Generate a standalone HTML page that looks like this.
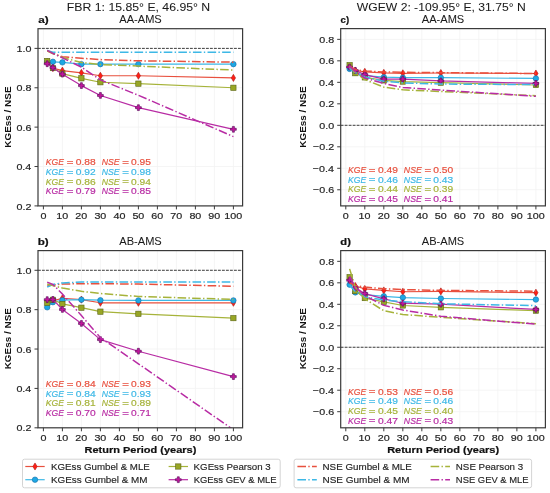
<!DOCTYPE html>
<html><head><meta charset="utf-8"><style>
html,body{margin:0;padding:0;background:#fff;}
body{width:550px;height:493px;overflow:hidden;}
svg{display:block;font-family:"Liberation Sans", sans-serif;filter:blur(0.35px);}
text{font-family:"Liberation Sans", sans-serif;}
</style></head><body>
<svg width="550" height="493" viewBox="0 0 550 493">
<rect width="550" height="493" fill="#ffffff"/>
<path d="M43.4,28.7V205.9M62.4,28.7V205.9M81.4,28.7V205.9M100.4,28.7V205.9M119.4,28.7V205.9M138.4,28.7V205.9M157.4,28.7V205.9M176.4,28.7V205.9M195.4,28.7V205.9M214.4,28.7V205.9M233.4,28.7V205.9M38,205.9H242.6M38,166.52H242.6M38,127.14H242.6M38,87.77H242.6M38,48.39H242.6" stroke="#f2f2f2" stroke-width="0.8" fill="none"/>
<path d="M38,48.39H242.6" stroke="#3c3c3c" stroke-width="1.0" stroke-dasharray="2.8 1.2" fill="none"/>
<clipPath id="cpa"><rect x="38.0" y="28.7" width="204.6" height="177.20000000000002"/></clipPath>
<g clip-path="url(#cpa)">
<polyline points="47.2,62.17 52.9,68.08 62.4,70.64 81.4,72.8 100.4,75.76 138.4,75.76 233.4,77.92" fill="none" stroke="#e8503e" stroke-width="1.2" stroke-linejoin="round"/>
<polygon points="47.2,58.62 49.35,62.17 47.2,65.72 45.05,62.17" fill="#ff1e14" stroke="#a8201c" stroke-width="0.6"/>
<polygon points="52.9,64.53 55.05,68.08 52.9,71.63 50.75,68.08" fill="#ff1e14" stroke="#a8201c" stroke-width="0.6"/>
<polygon points="62.4,67.09 64.55,70.64 62.4,74.19 60.25,70.64" fill="#ff1e14" stroke="#a8201c" stroke-width="0.6"/>
<polygon points="81.4,69.25 83.55,72.8 81.4,76.35 79.25,72.8" fill="#ff1e14" stroke="#a8201c" stroke-width="0.6"/>
<polygon points="100.4,72.21 102.55,75.76 100.4,79.31 98.25,75.76" fill="#ff1e14" stroke="#a8201c" stroke-width="0.6"/>
<polygon points="138.4,72.21 140.55,75.76 138.4,79.31 136.25,75.76" fill="#ff1e14" stroke="#a8201c" stroke-width="0.6"/>
<polygon points="233.4,74.37 235.55,77.92 233.4,81.47 231.25,77.92" fill="#ff1e14" stroke="#a8201c" stroke-width="0.6"/>
<polyline points="47.2,61.78 52.9,61.78 62.4,62.37 81.4,64.14 100.4,64.14 138.4,64.14 233.4,64.14" fill="none" stroke="#3db8e6" stroke-width="1.2" stroke-linejoin="round"/>
<circle cx="47.2" cy="61.78" r="2.75" fill="#1ea8e4" stroke="#1a6fa8" stroke-width="0.6"/>
<circle cx="52.9" cy="61.78" r="2.75" fill="#1ea8e4" stroke="#1a6fa8" stroke-width="0.6"/>
<circle cx="62.4" cy="62.37" r="2.75" fill="#1ea8e4" stroke="#1a6fa8" stroke-width="0.6"/>
<circle cx="81.4" cy="64.14" r="2.75" fill="#1ea8e4" stroke="#1a6fa8" stroke-width="0.6"/>
<circle cx="100.4" cy="64.14" r="2.75" fill="#1ea8e4" stroke="#1a6fa8" stroke-width="0.6"/>
<circle cx="138.4" cy="64.14" r="2.75" fill="#1ea8e4" stroke="#1a6fa8" stroke-width="0.6"/>
<circle cx="233.4" cy="64.14" r="2.75" fill="#1ea8e4" stroke="#1a6fa8" stroke-width="0.6"/>
<polyline points="47.2,60.99 52.9,68.08 62.4,73.59 81.4,78.32 100.4,82.25 138.4,83.63 233.4,87.77" fill="none" stroke="#a6b33a" stroke-width="1.2" stroke-linejoin="round"/>
<rect x="44.55" y="58.34" width="5.3" height="5.3" fill="#98a625" stroke="#5a6414" stroke-width="0.6"/>
<rect x="50.25" y="65.43" width="5.3" height="5.3" fill="#98a625" stroke="#5a6414" stroke-width="0.6"/>
<rect x="59.75" y="70.94" width="5.3" height="5.3" fill="#98a625" stroke="#5a6414" stroke-width="0.6"/>
<rect x="78.75" y="75.67" width="5.3" height="5.3" fill="#98a625" stroke="#5a6414" stroke-width="0.6"/>
<rect x="97.75" y="79.6" width="5.3" height="5.3" fill="#98a625" stroke="#5a6414" stroke-width="0.6"/>
<rect x="135.75" y="80.98" width="5.3" height="5.3" fill="#98a625" stroke="#5a6414" stroke-width="0.6"/>
<rect x="230.75" y="85.12" width="5.3" height="5.3" fill="#98a625" stroke="#5a6414" stroke-width="0.6"/>
<polyline points="47.2,63.75 52.9,67.68 62.4,74.18 81.4,85.6 100.4,95.45 138.4,107.65 233.4,129.31" fill="none" stroke="#b82ca4" stroke-width="1.2" stroke-linejoin="round"/>
<polygon points="46.2,60.85 48.2,60.85 48.2,62.75 50.1,62.75 50.1,64.75 48.2,64.75 48.2,66.65 46.2,66.65 46.2,64.75 44.3,64.75 44.3,62.75 46.2,62.75" fill="#c4149e" stroke="#520a58" stroke-width="0.6"/>
<polygon points="51.9,64.78 53.9,64.78 53.9,66.68 55.8,66.68 55.8,68.68 53.9,68.68 53.9,70.58 51.9,70.58 51.9,68.68 50,68.68 50,66.68 51.9,66.68" fill="#c4149e" stroke="#520a58" stroke-width="0.6"/>
<polygon points="61.4,71.28 63.4,71.28 63.4,73.18 65.3,73.18 65.3,75.18 63.4,75.18 63.4,77.08 61.4,77.08 61.4,75.18 59.5,75.18 59.5,73.18 61.4,73.18" fill="#c4149e" stroke="#520a58" stroke-width="0.6"/>
<polygon points="80.4,82.7 82.4,82.7 82.4,84.6 84.3,84.6 84.3,86.6 82.4,86.6 82.4,88.5 80.4,88.5 80.4,86.6 78.5,86.6 78.5,84.6 80.4,84.6" fill="#c4149e" stroke="#520a58" stroke-width="0.6"/>
<polygon points="99.4,92.55 101.4,92.55 101.4,94.45 103.3,94.45 103.3,96.45 101.4,96.45 101.4,98.35 99.4,98.35 99.4,96.45 97.5,96.45 97.5,94.45 99.4,94.45" fill="#c4149e" stroke="#520a58" stroke-width="0.6"/>
<polygon points="137.4,104.75 139.4,104.75 139.4,106.65 141.3,106.65 141.3,108.65 139.4,108.65 139.4,110.55 137.4,110.55 137.4,108.65 135.5,108.65 135.5,106.65 137.4,106.65" fill="#c4149e" stroke="#520a58" stroke-width="0.6"/>
<polygon points="232.4,126.41 234.4,126.41 234.4,128.31 236.3,128.31 236.3,130.31 234.4,130.31 234.4,132.21 232.4,132.21 232.4,130.31 230.5,130.31 230.5,128.31 232.4,128.31" fill="#c4149e" stroke="#520a58" stroke-width="0.6"/>
<polyline points="47.2,50.75 52.9,53.51 62.4,56.66 81.4,58.23 100.4,59.61 138.4,60.79 233.4,62.17" fill="none" stroke="#e8503e" stroke-width="1.5" stroke-dasharray="8.6 2.3 1.4 2.3" stroke-linejoin="round"/>
<polyline points="47.2,50.36 52.9,52.13 62.4,52.13 81.4,52.13 100.4,52.13 138.4,52.13 233.4,52.13" fill="none" stroke="#3db8e6" stroke-width="1.5" stroke-dasharray="8.6 2.3 1.4 2.3" stroke-linejoin="round"/>
<polyline points="47.2,50.75 52.9,53.51 62.4,57.45 81.4,62.56 100.4,64.53 138.4,66.11 233.4,70.05" fill="none" stroke="#a6b33a" stroke-width="1.5" stroke-dasharray="8.6 2.3 1.4 2.3" stroke-linejoin="round"/>
<polyline points="47.2,50.36 52.9,53.31 62.4,57.84 81.4,67.09 100.4,79.89 138.4,95.25 233.4,136.6" fill="none" stroke="#b82ca4" stroke-width="1.5" stroke-dasharray="8.6 2.3 1.4 2.3" stroke-linejoin="round"/>
</g>
<rect x="38.0" y="28.7" width="204.6" height="177.2" fill="none" stroke="#3a3a3a" stroke-width="1.2"/>
<path d="M43.4,205.9v3.5M62.4,205.9v3.5M81.4,205.9v3.5M100.4,205.9v3.5M119.4,205.9v3.5M138.4,205.9v3.5M157.4,205.9v3.5M176.4,205.9v3.5M195.4,205.9v3.5M214.4,205.9v3.5M233.4,205.9v3.5M38,205.9h-3.5M38,166.52h-3.5M38,127.14h-3.5M38,87.77h-3.5M38,48.39h-3.5" stroke="#3a3a3a" stroke-width="1.0" fill="none"/>
<text transform="translate(40.39,219.3) scale(1.0970,1)" font-size="9.8" font-weight="normal" font-style="normal" fill="#262626" stroke="#262626" stroke-width="0.2">0</text>
<text transform="translate(56.16,219.3) scale(1.0970,1)" font-size="9.8" font-weight="normal" font-style="normal" fill="#262626" stroke="#262626" stroke-width="0.2">10</text>
<text transform="translate(75.33,219.3) scale(1.0970,1)" font-size="9.8" font-weight="normal" font-style="normal" fill="#262626" stroke="#262626" stroke-width="0.2">20</text>
<text transform="translate(94.38,219.3) scale(1.0970,1)" font-size="9.8" font-weight="normal" font-style="normal" fill="#262626" stroke="#262626" stroke-width="0.2">30</text>
<text transform="translate(113.49,219.3) scale(1.0970,1)" font-size="9.8" font-weight="normal" font-style="normal" fill="#262626" stroke="#262626" stroke-width="0.2">40</text>
<text transform="translate(132.38,219.3) scale(1.0970,1)" font-size="9.8" font-weight="normal" font-style="normal" fill="#262626" stroke="#262626" stroke-width="0.2">50</text>
<text transform="translate(151.33,219.3) scale(1.0970,1)" font-size="9.8" font-weight="normal" font-style="normal" fill="#262626" stroke="#262626" stroke-width="0.2">60</text>
<text transform="translate(170.33,219.3) scale(1.0970,1)" font-size="9.8" font-weight="normal" font-style="normal" fill="#262626" stroke="#262626" stroke-width="0.2">70</text>
<text transform="translate(189.38,219.3) scale(1.0970,1)" font-size="9.8" font-weight="normal" font-style="normal" fill="#262626" stroke="#262626" stroke-width="0.2">80</text>
<text transform="translate(208.33,219.3) scale(1.0970,1)" font-size="9.8" font-weight="normal" font-style="normal" fill="#262626" stroke="#262626" stroke-width="0.2">90</text>
<text transform="translate(224.21,219.3) scale(1.0970,1)" font-size="9.8" font-weight="normal" font-style="normal" fill="#262626" stroke="#262626" stroke-width="0.2">100</text>
<text transform="translate(16.59,209.5) scale(1.0970,1)" font-size="9.8" font-weight="normal" font-style="normal" fill="#262626" stroke="#262626" stroke-width="0.2">0.2</text>
<text transform="translate(16.38,170.12) scale(1.0970,1)" font-size="9.8" font-weight="normal" font-style="normal" fill="#262626" stroke="#262626" stroke-width="0.2">0.4</text>
<text transform="translate(16.59,130.74) scale(1.0970,1)" font-size="9.8" font-weight="normal" font-style="normal" fill="#262626" stroke="#262626" stroke-width="0.2">0.6</text>
<text transform="translate(16.59,91.37) scale(1.0970,1)" font-size="9.8" font-weight="normal" font-style="normal" fill="#262626" stroke="#262626" stroke-width="0.2">0.8</text>
<text transform="translate(16.49,51.99) scale(1.0970,1)" font-size="9.8" font-weight="normal" font-style="normal" fill="#262626" stroke="#262626" stroke-width="0.2">1.0</text>
<text transform="translate(45.84,165.3) scale(0.8739,1)" font-size="9.8" font-weight="normal" font-style="italic" fill="#e8503e" stroke="#e8503e" stroke-width="0.2">KGE</text>
<text transform="translate(66.63,164.95) scale(1.3720,1)" font-size="8.33" font-weight="normal" font-style="normal" fill="#e8503e" stroke="#e8503e" stroke-width="0.2">=</text>
<text transform="translate(75.79,165.3) scale(1.0450,1)" font-size="9.8" font-weight="normal" font-style="normal" fill="#e8503e" stroke="#e8503e" stroke-width="0.2">0.88</text>
<text transform="translate(101.64,165.3) scale(0.8904,1)" font-size="9.8" font-weight="normal" font-style="italic" fill="#e8503e" stroke="#e8503e" stroke-width="0.2">NSE</text>
<text transform="translate(122.23,164.95) scale(1.3720,1)" font-size="8.33" font-weight="normal" font-style="normal" fill="#e8503e" stroke="#e8503e" stroke-width="0.2">=</text>
<text transform="translate(130.99,165.3) scale(1.0450,1)" font-size="9.8" font-weight="normal" font-style="normal" fill="#e8503e" stroke="#e8503e" stroke-width="0.2">0.95</text>
<text transform="translate(45.84,174.98) scale(0.8739,1)" font-size="9.8" font-weight="normal" font-style="italic" fill="#3db8e6" stroke="#3db8e6" stroke-width="0.2">KGE</text>
<text transform="translate(66.63,174.63) scale(1.3720,1)" font-size="8.33" font-weight="normal" font-style="normal" fill="#3db8e6" stroke="#3db8e6" stroke-width="0.2">=</text>
<text transform="translate(75.79,174.98) scale(1.0450,1)" font-size="9.8" font-weight="normal" font-style="normal" fill="#3db8e6" stroke="#3db8e6" stroke-width="0.2">0.92</text>
<text transform="translate(101.64,174.98) scale(0.8904,1)" font-size="9.8" font-weight="normal" font-style="italic" fill="#3db8e6" stroke="#3db8e6" stroke-width="0.2">NSE</text>
<text transform="translate(122.23,174.63) scale(1.3720,1)" font-size="8.33" font-weight="normal" font-style="normal" fill="#3db8e6" stroke="#3db8e6" stroke-width="0.2">=</text>
<text transform="translate(130.99,174.98) scale(1.0450,1)" font-size="9.8" font-weight="normal" font-style="normal" fill="#3db8e6" stroke="#3db8e6" stroke-width="0.2">0.98</text>
<text transform="translate(45.84,184.66) scale(0.8739,1)" font-size="9.8" font-weight="normal" font-style="italic" fill="#a6b33a" stroke="#a6b33a" stroke-width="0.2">KGE</text>
<text transform="translate(66.63,184.31) scale(1.3720,1)" font-size="8.33" font-weight="normal" font-style="normal" fill="#a6b33a" stroke="#a6b33a" stroke-width="0.2">=</text>
<text transform="translate(75.79,184.66) scale(1.0450,1)" font-size="9.8" font-weight="normal" font-style="normal" fill="#a6b33a" stroke="#a6b33a" stroke-width="0.2">0.86</text>
<text transform="translate(101.64,184.66) scale(0.8904,1)" font-size="9.8" font-weight="normal" font-style="italic" fill="#a6b33a" stroke="#a6b33a" stroke-width="0.2">NSE</text>
<text transform="translate(122.23,184.31) scale(1.3720,1)" font-size="8.33" font-weight="normal" font-style="normal" fill="#a6b33a" stroke="#a6b33a" stroke-width="0.2">=</text>
<text transform="translate(130.99,184.66) scale(1.0450,1)" font-size="9.8" font-weight="normal" font-style="normal" fill="#a6b33a" stroke="#a6b33a" stroke-width="0.2">0.94</text>
<text transform="translate(45.84,194.34) scale(0.8739,1)" font-size="9.8" font-weight="normal" font-style="italic" fill="#b82ca4" stroke="#b82ca4" stroke-width="0.2">KGE</text>
<text transform="translate(66.63,193.99) scale(1.3720,1)" font-size="8.33" font-weight="normal" font-style="normal" fill="#b82ca4" stroke="#b82ca4" stroke-width="0.2">=</text>
<text transform="translate(75.79,194.34) scale(1.0450,1)" font-size="9.8" font-weight="normal" font-style="normal" fill="#b82ca4" stroke="#b82ca4" stroke-width="0.2">0.79</text>
<text transform="translate(101.64,194.34) scale(0.8904,1)" font-size="9.8" font-weight="normal" font-style="italic" fill="#b82ca4" stroke="#b82ca4" stroke-width="0.2">NSE</text>
<text transform="translate(122.23,193.99) scale(1.3720,1)" font-size="8.33" font-weight="normal" font-style="normal" fill="#b82ca4" stroke="#b82ca4" stroke-width="0.2">=</text>
<text transform="translate(130.99,194.34) scale(1.0450,1)" font-size="9.8" font-weight="normal" font-style="normal" fill="#b82ca4" stroke="#b82ca4" stroke-width="0.2">0.85</text>
<path d="M43.4,250.6V427.8M62.4,250.6V427.8M81.4,250.6V427.8M100.4,250.6V427.8M119.4,250.6V427.8M138.4,250.6V427.8M157.4,250.6V427.8M176.4,250.6V427.8M195.4,250.6V427.8M214.4,250.6V427.8M233.4,250.6V427.8M38,427.8H242.6M38,388.42H242.6M38,349.04H242.6M38,309.67H242.6M38,270.29H242.6" stroke="#f2f2f2" stroke-width="0.8" fill="none"/>
<path d="M38,270.29H242.6" stroke="#3c3c3c" stroke-width="1.0" stroke-dasharray="2.8 1.2" fill="none"/>
<clipPath id="cpb"><rect x="38.0" y="250.6" width="204.6" height="177.20000000000002"/></clipPath>
<g clip-path="url(#cpb)">
<polyline points="47.2,301.79 52.9,300.81 62.4,298.25 81.4,299.63 100.4,302.78 138.4,302.78 233.4,302.78" fill="none" stroke="#e8503e" stroke-width="1.2" stroke-linejoin="round"/>
<polygon points="47.2,298.24 49.35,301.79 47.2,305.34 45.05,301.79" fill="#ff1e14" stroke="#a8201c" stroke-width="0.6"/>
<polygon points="52.9,297.26 55.05,300.81 52.9,304.36 50.75,300.81" fill="#ff1e14" stroke="#a8201c" stroke-width="0.6"/>
<polygon points="62.4,294.7 64.55,298.25 62.4,301.8 60.25,298.25" fill="#ff1e14" stroke="#a8201c" stroke-width="0.6"/>
<polygon points="81.4,296.08 83.55,299.63 81.4,303.18 79.25,299.63" fill="#ff1e14" stroke="#a8201c" stroke-width="0.6"/>
<polygon points="100.4,299.23 102.55,302.78 100.4,306.33 98.25,302.78" fill="#ff1e14" stroke="#a8201c" stroke-width="0.6"/>
<polygon points="138.4,299.23 140.55,302.78 138.4,306.33 136.25,302.78" fill="#ff1e14" stroke="#a8201c" stroke-width="0.6"/>
<polygon points="233.4,299.23 235.55,302.78 233.4,306.33 231.25,302.78" fill="#ff1e14" stroke="#a8201c" stroke-width="0.6"/>
<polyline points="47.2,307.3 52.9,302.18 62.4,300.22 81.4,299.63 100.4,300.22 138.4,300.41 233.4,300.41" fill="none" stroke="#3db8e6" stroke-width="1.2" stroke-linejoin="round"/>
<circle cx="47.2" cy="307.3" r="2.75" fill="#1ea8e4" stroke="#1a6fa8" stroke-width="0.6"/>
<circle cx="52.9" cy="302.18" r="2.75" fill="#1ea8e4" stroke="#1a6fa8" stroke-width="0.6"/>
<circle cx="62.4" cy="300.22" r="2.75" fill="#1ea8e4" stroke="#1a6fa8" stroke-width="0.6"/>
<circle cx="81.4" cy="299.63" r="2.75" fill="#1ea8e4" stroke="#1a6fa8" stroke-width="0.6"/>
<circle cx="100.4" cy="300.22" r="2.75" fill="#1ea8e4" stroke="#1a6fa8" stroke-width="0.6"/>
<circle cx="138.4" cy="300.41" r="2.75" fill="#1ea8e4" stroke="#1a6fa8" stroke-width="0.6"/>
<circle cx="233.4" cy="300.41" r="2.75" fill="#1ea8e4" stroke="#1a6fa8" stroke-width="0.6"/>
<polyline points="47.2,302.78 52.9,299.82 62.4,303.96 81.4,307.7 100.4,311.64 138.4,313.8 233.4,318.13" fill="none" stroke="#a6b33a" stroke-width="1.2" stroke-linejoin="round"/>
<rect x="44.55" y="300.13" width="5.3" height="5.3" fill="#98a625" stroke="#5a6414" stroke-width="0.6"/>
<rect x="50.25" y="297.17" width="5.3" height="5.3" fill="#98a625" stroke="#5a6414" stroke-width="0.6"/>
<rect x="59.75" y="301.31" width="5.3" height="5.3" fill="#98a625" stroke="#5a6414" stroke-width="0.6"/>
<rect x="78.75" y="305.05" width="5.3" height="5.3" fill="#98a625" stroke="#5a6414" stroke-width="0.6"/>
<rect x="97.75" y="308.99" width="5.3" height="5.3" fill="#98a625" stroke="#5a6414" stroke-width="0.6"/>
<rect x="135.75" y="311.15" width="5.3" height="5.3" fill="#98a625" stroke="#5a6414" stroke-width="0.6"/>
<rect x="230.75" y="315.48" width="5.3" height="5.3" fill="#98a625" stroke="#5a6414" stroke-width="0.6"/>
<polyline points="47.2,299.63 52.9,299.43 62.4,309.47 81.4,323.45 100.4,339.59 138.4,351.21 233.4,376.61" fill="none" stroke="#b82ca4" stroke-width="1.2" stroke-linejoin="round"/>
<polygon points="46.2,296.73 48.2,296.73 48.2,298.63 50.1,298.63 50.1,300.63 48.2,300.63 48.2,302.53 46.2,302.53 46.2,300.63 44.3,300.63 44.3,298.63 46.2,298.63" fill="#c4149e" stroke="#520a58" stroke-width="0.6"/>
<polygon points="51.9,296.53 53.9,296.53 53.9,298.43 55.8,298.43 55.8,300.43 53.9,300.43 53.9,302.33 51.9,302.33 51.9,300.43 50,300.43 50,298.43 51.9,298.43" fill="#c4149e" stroke="#520a58" stroke-width="0.6"/>
<polygon points="61.4,306.57 63.4,306.57 63.4,308.47 65.3,308.47 65.3,310.47 63.4,310.47 63.4,312.37 61.4,312.37 61.4,310.47 59.5,310.47 59.5,308.47 61.4,308.47" fill="#c4149e" stroke="#520a58" stroke-width="0.6"/>
<polygon points="80.4,320.55 82.4,320.55 82.4,322.45 84.3,322.45 84.3,324.45 82.4,324.45 82.4,326.35 80.4,326.35 80.4,324.45 78.5,324.45 78.5,322.45 80.4,322.45" fill="#c4149e" stroke="#520a58" stroke-width="0.6"/>
<polygon points="99.4,336.69 101.4,336.69 101.4,338.59 103.3,338.59 103.3,340.59 101.4,340.59 101.4,342.49 99.4,342.49 99.4,340.59 97.5,340.59 97.5,338.59 99.4,338.59" fill="#c4149e" stroke="#520a58" stroke-width="0.6"/>
<polygon points="137.4,348.31 139.4,348.31 139.4,350.21 141.3,350.21 141.3,352.21 139.4,352.21 139.4,354.11 137.4,354.11 137.4,352.21 135.5,352.21 135.5,350.21 137.4,350.21" fill="#c4149e" stroke="#520a58" stroke-width="0.6"/>
<polygon points="232.4,373.71 234.4,373.71 234.4,375.61 236.3,375.61 236.3,377.61 234.4,377.61 234.4,379.51 232.4,379.51 232.4,377.61 230.5,377.61 230.5,375.61 232.4,375.61" fill="#c4149e" stroke="#520a58" stroke-width="0.6"/>
<polyline points="47.2,286.04 52.9,284.86 62.4,284.07 81.4,283.68 100.4,283.68 138.4,284.07 233.4,286.24" fill="none" stroke="#e8503e" stroke-width="1.5" stroke-dasharray="8.6 2.3 1.4 2.3" stroke-linejoin="round"/>
<polyline points="47.2,287.02 52.9,284.46 62.4,282.89 81.4,282.1 100.4,282.1 138.4,282.1 233.4,282.1" fill="none" stroke="#3db8e6" stroke-width="1.5" stroke-dasharray="8.6 2.3 1.4 2.3" stroke-linejoin="round"/>
<polyline points="47.2,284.07 52.9,285.65 62.4,288.01 81.4,291.36 100.4,293.52 138.4,296.48 233.4,299.43" fill="none" stroke="#a6b33a" stroke-width="1.5" stroke-dasharray="8.6 2.3 1.4 2.3" stroke-linejoin="round"/>
<polyline points="47.2,282.1 52.9,284.46 62.4,293.92 81.4,315.57 100.4,337.62 138.4,363.81 233.4,429.77" fill="none" stroke="#b82ca4" stroke-width="1.5" stroke-dasharray="8.6 2.3 1.4 2.3" stroke-linejoin="round"/>
</g>
<rect x="38.0" y="250.6" width="204.6" height="177.2" fill="none" stroke="#3a3a3a" stroke-width="1.2"/>
<path d="M43.4,427.8v3.5M62.4,427.8v3.5M81.4,427.8v3.5M100.4,427.8v3.5M119.4,427.8v3.5M138.4,427.8v3.5M157.4,427.8v3.5M176.4,427.8v3.5M195.4,427.8v3.5M214.4,427.8v3.5M233.4,427.8v3.5M38,427.8h-3.5M38,388.42h-3.5M38,349.04h-3.5M38,309.67h-3.5M38,270.29h-3.5" stroke="#3a3a3a" stroke-width="1.0" fill="none"/>
<text transform="translate(40.39,441.2) scale(1.0970,1)" font-size="9.8" font-weight="normal" font-style="normal" fill="#262626" stroke="#262626" stroke-width="0.2">0</text>
<text transform="translate(56.16,441.2) scale(1.0970,1)" font-size="9.8" font-weight="normal" font-style="normal" fill="#262626" stroke="#262626" stroke-width="0.2">10</text>
<text transform="translate(75.33,441.2) scale(1.0970,1)" font-size="9.8" font-weight="normal" font-style="normal" fill="#262626" stroke="#262626" stroke-width="0.2">20</text>
<text transform="translate(94.38,441.2) scale(1.0970,1)" font-size="9.8" font-weight="normal" font-style="normal" fill="#262626" stroke="#262626" stroke-width="0.2">30</text>
<text transform="translate(113.49,441.2) scale(1.0970,1)" font-size="9.8" font-weight="normal" font-style="normal" fill="#262626" stroke="#262626" stroke-width="0.2">40</text>
<text transform="translate(132.38,441.2) scale(1.0970,1)" font-size="9.8" font-weight="normal" font-style="normal" fill="#262626" stroke="#262626" stroke-width="0.2">50</text>
<text transform="translate(151.33,441.2) scale(1.0970,1)" font-size="9.8" font-weight="normal" font-style="normal" fill="#262626" stroke="#262626" stroke-width="0.2">60</text>
<text transform="translate(170.33,441.2) scale(1.0970,1)" font-size="9.8" font-weight="normal" font-style="normal" fill="#262626" stroke="#262626" stroke-width="0.2">70</text>
<text transform="translate(189.38,441.2) scale(1.0970,1)" font-size="9.8" font-weight="normal" font-style="normal" fill="#262626" stroke="#262626" stroke-width="0.2">80</text>
<text transform="translate(208.33,441.2) scale(1.0970,1)" font-size="9.8" font-weight="normal" font-style="normal" fill="#262626" stroke="#262626" stroke-width="0.2">90</text>
<text transform="translate(224.21,441.2) scale(1.0970,1)" font-size="9.8" font-weight="normal" font-style="normal" fill="#262626" stroke="#262626" stroke-width="0.2">100</text>
<text transform="translate(16.59,431.4) scale(1.0970,1)" font-size="9.8" font-weight="normal" font-style="normal" fill="#262626" stroke="#262626" stroke-width="0.2">0.2</text>
<text transform="translate(16.38,392.02) scale(1.0970,1)" font-size="9.8" font-weight="normal" font-style="normal" fill="#262626" stroke="#262626" stroke-width="0.2">0.4</text>
<text transform="translate(16.59,352.64) scale(1.0970,1)" font-size="9.8" font-weight="normal" font-style="normal" fill="#262626" stroke="#262626" stroke-width="0.2">0.6</text>
<text transform="translate(16.59,313.27) scale(1.0970,1)" font-size="9.8" font-weight="normal" font-style="normal" fill="#262626" stroke="#262626" stroke-width="0.2">0.8</text>
<text transform="translate(16.49,273.89) scale(1.0970,1)" font-size="9.8" font-weight="normal" font-style="normal" fill="#262626" stroke="#262626" stroke-width="0.2">1.0</text>
<text transform="translate(45.84,386.9) scale(0.8739,1)" font-size="9.8" font-weight="normal" font-style="italic" fill="#e8503e" stroke="#e8503e" stroke-width="0.2">KGE</text>
<text transform="translate(66.63,386.55) scale(1.3720,1)" font-size="8.33" font-weight="normal" font-style="normal" fill="#e8503e" stroke="#e8503e" stroke-width="0.2">=</text>
<text transform="translate(75.79,386.9) scale(1.0450,1)" font-size="9.8" font-weight="normal" font-style="normal" fill="#e8503e" stroke="#e8503e" stroke-width="0.2">0.84</text>
<text transform="translate(101.64,386.9) scale(0.8904,1)" font-size="9.8" font-weight="normal" font-style="italic" fill="#e8503e" stroke="#e8503e" stroke-width="0.2">NSE</text>
<text transform="translate(122.23,386.55) scale(1.3720,1)" font-size="8.33" font-weight="normal" font-style="normal" fill="#e8503e" stroke="#e8503e" stroke-width="0.2">=</text>
<text transform="translate(130.99,386.9) scale(1.0450,1)" font-size="9.8" font-weight="normal" font-style="normal" fill="#e8503e" stroke="#e8503e" stroke-width="0.2">0.93</text>
<text transform="translate(45.84,396.58) scale(0.8739,1)" font-size="9.8" font-weight="normal" font-style="italic" fill="#3db8e6" stroke="#3db8e6" stroke-width="0.2">KGE</text>
<text transform="translate(66.63,396.23) scale(1.3720,1)" font-size="8.33" font-weight="normal" font-style="normal" fill="#3db8e6" stroke="#3db8e6" stroke-width="0.2">=</text>
<text transform="translate(75.79,396.58) scale(1.0450,1)" font-size="9.8" font-weight="normal" font-style="normal" fill="#3db8e6" stroke="#3db8e6" stroke-width="0.2">0.84</text>
<text transform="translate(101.64,396.58) scale(0.8904,1)" font-size="9.8" font-weight="normal" font-style="italic" fill="#3db8e6" stroke="#3db8e6" stroke-width="0.2">NSE</text>
<text transform="translate(122.23,396.23) scale(1.3720,1)" font-size="8.33" font-weight="normal" font-style="normal" fill="#3db8e6" stroke="#3db8e6" stroke-width="0.2">=</text>
<text transform="translate(130.99,396.58) scale(1.0450,1)" font-size="9.8" font-weight="normal" font-style="normal" fill="#3db8e6" stroke="#3db8e6" stroke-width="0.2">0.93</text>
<text transform="translate(45.84,406.26) scale(0.8739,1)" font-size="9.8" font-weight="normal" font-style="italic" fill="#a6b33a" stroke="#a6b33a" stroke-width="0.2">KGE</text>
<text transform="translate(66.63,405.91) scale(1.3720,1)" font-size="8.33" font-weight="normal" font-style="normal" fill="#a6b33a" stroke="#a6b33a" stroke-width="0.2">=</text>
<text transform="translate(75.79,406.26) scale(1.0450,1)" font-size="9.8" font-weight="normal" font-style="normal" fill="#a6b33a" stroke="#a6b33a" stroke-width="0.2">0.81</text>
<text transform="translate(101.64,406.26) scale(0.8904,1)" font-size="9.8" font-weight="normal" font-style="italic" fill="#a6b33a" stroke="#a6b33a" stroke-width="0.2">NSE</text>
<text transform="translate(122.23,405.91) scale(1.3720,1)" font-size="8.33" font-weight="normal" font-style="normal" fill="#a6b33a" stroke="#a6b33a" stroke-width="0.2">=</text>
<text transform="translate(130.99,406.26) scale(1.0450,1)" font-size="9.8" font-weight="normal" font-style="normal" fill="#a6b33a" stroke="#a6b33a" stroke-width="0.2">0.89</text>
<text transform="translate(45.84,415.94) scale(0.8739,1)" font-size="9.8" font-weight="normal" font-style="italic" fill="#b82ca4" stroke="#b82ca4" stroke-width="0.2">KGE</text>
<text transform="translate(66.63,415.59) scale(1.3720,1)" font-size="8.33" font-weight="normal" font-style="normal" fill="#b82ca4" stroke="#b82ca4" stroke-width="0.2">=</text>
<text transform="translate(75.79,415.94) scale(1.0450,1)" font-size="9.8" font-weight="normal" font-style="normal" fill="#b82ca4" stroke="#b82ca4" stroke-width="0.2">0.70</text>
<text transform="translate(101.64,415.94) scale(0.8904,1)" font-size="9.8" font-weight="normal" font-style="italic" fill="#b82ca4" stroke="#b82ca4" stroke-width="0.2">NSE</text>
<text transform="translate(122.23,415.59) scale(1.3720,1)" font-size="8.33" font-weight="normal" font-style="normal" fill="#b82ca4" stroke="#b82ca4" stroke-width="0.2">=</text>
<text transform="translate(130.99,415.94) scale(1.0450,1)" font-size="9.8" font-weight="normal" font-style="normal" fill="#b82ca4" stroke="#b82ca4" stroke-width="0.2">0.71</text>
<path d="M345.8,28.6V205.9M364.81,28.6V205.9M383.82,28.6V205.9M402.83,28.6V205.9M421.84,28.6V205.9M440.85,28.6V205.9M459.86,28.6V205.9M478.87,28.6V205.9M497.88,28.6V205.9M516.89,28.6V205.9M535.9,28.6V205.9M340.7,189.78H545.4M340.7,168.29H545.4M340.7,146.8H545.4M340.7,125.31H545.4M340.7,103.82H545.4M340.7,82.33H545.4M340.7,60.84H545.4M340.7,39.35H545.4" stroke="#f2f2f2" stroke-width="0.8" fill="none"/>
<path d="M340.7,125.31H545.4" stroke="#3c3c3c" stroke-width="1.0" stroke-dasharray="2.8 1.2" fill="none"/>
<clipPath id="cpc"><rect x="340.7" y="28.6" width="204.7" height="177.3"/></clipPath>
<g clip-path="url(#cpc)">
<polyline points="349.6,67.28 355.31,70.51 364.81,71.8 383.82,72.87 402.83,73.3 440.85,72.98 535.9,73.52" fill="none" stroke="#e8503e" stroke-width="1.2" stroke-linejoin="round"/>
<polygon points="349.6,63.73 351.75,67.28 349.6,70.83 347.45,67.28" fill="#ff1e14" stroke="#a8201c" stroke-width="0.6"/>
<polygon points="355.31,66.96 357.45,70.51 355.31,74.06 353.16,70.51" fill="#ff1e14" stroke="#a8201c" stroke-width="0.6"/>
<polygon points="364.81,68.25 366.96,71.8 364.81,75.35 362.66,71.8" fill="#ff1e14" stroke="#a8201c" stroke-width="0.6"/>
<polygon points="383.82,69.32 385.97,72.87 383.82,76.42 381.67,72.87" fill="#ff1e14" stroke="#a8201c" stroke-width="0.6"/>
<polygon points="402.83,69.75 404.98,73.3 402.83,76.85 400.68,73.3" fill="#ff1e14" stroke="#a8201c" stroke-width="0.6"/>
<polygon points="440.85,69.43 443,72.98 440.85,76.53 438.7,72.98" fill="#ff1e14" stroke="#a8201c" stroke-width="0.6"/>
<polygon points="535.9,69.97 538.05,73.52 535.9,77.07 533.75,73.52" fill="#ff1e14" stroke="#a8201c" stroke-width="0.6"/>
<polyline points="349.6,68.9 355.31,72.66 364.81,75.67 383.82,77.17 402.83,77.71 440.85,77.71 535.9,78.46" fill="none" stroke="#3db8e6" stroke-width="1.2" stroke-linejoin="round"/>
<circle cx="349.6" cy="68.9" r="2.75" fill="#1ea8e4" stroke="#1a6fa8" stroke-width="0.6"/>
<circle cx="355.31" cy="72.66" r="2.75" fill="#1ea8e4" stroke="#1a6fa8" stroke-width="0.6"/>
<circle cx="364.81" cy="75.67" r="2.75" fill="#1ea8e4" stroke="#1a6fa8" stroke-width="0.6"/>
<circle cx="383.82" cy="77.17" r="2.75" fill="#1ea8e4" stroke="#1a6fa8" stroke-width="0.6"/>
<circle cx="402.83" cy="77.71" r="2.75" fill="#1ea8e4" stroke="#1a6fa8" stroke-width="0.6"/>
<circle cx="440.85" cy="77.71" r="2.75" fill="#1ea8e4" stroke="#1a6fa8" stroke-width="0.6"/>
<circle cx="535.9" cy="78.46" r="2.75" fill="#1ea8e4" stroke="#1a6fa8" stroke-width="0.6"/>
<polyline points="349.6,65.13 355.31,73.19 364.81,77.38 383.82,80.39 402.83,81.58 440.85,82.65 535.9,85.01" fill="none" stroke="#a6b33a" stroke-width="1.2" stroke-linejoin="round"/>
<rect x="346.95" y="62.48" width="5.3" height="5.3" fill="#98a625" stroke="#5a6414" stroke-width="0.6"/>
<rect x="352.66" y="70.54" width="5.3" height="5.3" fill="#98a625" stroke="#5a6414" stroke-width="0.6"/>
<rect x="362.16" y="74.73" width="5.3" height="5.3" fill="#98a625" stroke="#5a6414" stroke-width="0.6"/>
<rect x="381.17" y="77.74" width="5.3" height="5.3" fill="#98a625" stroke="#5a6414" stroke-width="0.6"/>
<rect x="400.18" y="78.93" width="5.3" height="5.3" fill="#98a625" stroke="#5a6414" stroke-width="0.6"/>
<rect x="438.2" y="80" width="5.3" height="5.3" fill="#98a625" stroke="#5a6414" stroke-width="0.6"/>
<rect x="533.25" y="82.36" width="5.3" height="5.3" fill="#98a625" stroke="#5a6414" stroke-width="0.6"/>
<polyline points="349.6,67.07 355.31,70.51 364.81,74.59 383.82,79.1 402.83,79.1 440.85,80.93 535.9,83.4" fill="none" stroke="#b82ca4" stroke-width="1.2" stroke-linejoin="round"/>
<polygon points="348.6,64.17 350.6,64.17 350.6,66.07 352.5,66.07 352.5,68.07 350.6,68.07 350.6,69.97 348.6,69.97 348.6,68.07 346.7,68.07 346.7,66.07 348.6,66.07" fill="#c4149e" stroke="#520a58" stroke-width="0.6"/>
<polygon points="354.31,67.61 356.31,67.61 356.31,69.51 358.2,69.51 358.2,71.51 356.31,71.51 356.31,73.41 354.31,73.41 354.31,71.51 352.41,71.51 352.41,69.51 354.31,69.51" fill="#c4149e" stroke="#520a58" stroke-width="0.6"/>
<polygon points="363.81,71.69 365.81,71.69 365.81,73.59 367.71,73.59 367.71,75.59 365.81,75.59 365.81,77.49 363.81,77.49 363.81,75.59 361.91,75.59 361.91,73.59 363.81,73.59" fill="#c4149e" stroke="#520a58" stroke-width="0.6"/>
<polygon points="382.82,76.2 384.82,76.2 384.82,78.1 386.72,78.1 386.72,80.1 384.82,80.1 384.82,82 382.82,82 382.82,80.1 380.92,80.1 380.92,78.1 382.82,78.1" fill="#c4149e" stroke="#520a58" stroke-width="0.6"/>
<polygon points="401.83,76.2 403.83,76.2 403.83,78.1 405.73,78.1 405.73,80.1 403.83,80.1 403.83,82 401.83,82 401.83,80.1 399.93,80.1 399.93,78.1 401.83,78.1" fill="#c4149e" stroke="#520a58" stroke-width="0.6"/>
<polygon points="439.85,78.03 441.85,78.03 441.85,79.93 443.75,79.93 443.75,81.93 441.85,81.93 441.85,83.83 439.85,83.83 439.85,81.93 437.95,81.93 437.95,79.93 439.85,79.93" fill="#c4149e" stroke="#520a58" stroke-width="0.6"/>
<polygon points="534.9,80.5 536.9,80.5 536.9,82.4 538.8,82.4 538.8,84.4 536.9,84.4 536.9,86.3 534.9,86.3 534.9,84.4 533,84.4 533,82.4 534.9,82.4" fill="#c4149e" stroke="#520a58" stroke-width="0.6"/>
<polyline points="349.6,66.21 355.31,69.43 364.81,71.04 383.82,71.9 402.83,72.33 440.85,72.66 535.9,73.52" fill="none" stroke="#e8503e" stroke-width="1.5" stroke-dasharray="8.6 2.3 1.4 2.3" stroke-linejoin="round"/>
<polyline points="349.6,68.36 355.31,72.66 364.81,76.95 383.82,81.25 402.83,82.86 440.85,84.05 535.9,84.58" fill="none" stroke="#3db8e6" stroke-width="1.5" stroke-dasharray="8.6 2.3 1.4 2.3" stroke-linejoin="round"/>
<polyline points="349.6,66.21 355.31,72.66 364.81,79.64 383.82,87.16 402.83,89.85 440.85,91.46 535.9,95.76" fill="none" stroke="#a6b33a" stroke-width="1.5" stroke-dasharray="8.6 2.3 1.4 2.3" stroke-linejoin="round"/>
<polyline points="349.6,66.21 355.31,71.58 364.81,78.03 383.82,83.4 402.83,87.49 440.85,90.06 535.9,96.3" fill="none" stroke="#b82ca4" stroke-width="1.5" stroke-dasharray="8.6 2.3 1.4 2.3" stroke-linejoin="round"/>
</g>
<rect x="340.7" y="28.6" width="204.7" height="177.3" fill="none" stroke="#3a3a3a" stroke-width="1.2"/>
<path d="M345.8,205.9v3.5M364.81,205.9v3.5M383.82,205.9v3.5M402.83,205.9v3.5M421.84,205.9v3.5M440.85,205.9v3.5M459.86,205.9v3.5M478.87,205.9v3.5M497.88,205.9v3.5M516.89,205.9v3.5M535.9,205.9v3.5M340.7,189.78h-3.5M340.7,168.29h-3.5M340.7,146.8h-3.5M340.7,125.31h-3.5M340.7,103.82h-3.5M340.7,82.33h-3.5M340.7,60.84h-3.5M340.7,39.35h-3.5" stroke="#3a3a3a" stroke-width="1.0" fill="none"/>
<text transform="translate(342.79,219.3) scale(1.0970,1)" font-size="9.8" font-weight="normal" font-style="normal" fill="#262626" stroke="#262626" stroke-width="0.2">0</text>
<text transform="translate(358.57,219.3) scale(1.0970,1)" font-size="9.8" font-weight="normal" font-style="normal" fill="#262626" stroke="#262626" stroke-width="0.2">10</text>
<text transform="translate(377.75,219.3) scale(1.0970,1)" font-size="9.8" font-weight="normal" font-style="normal" fill="#262626" stroke="#262626" stroke-width="0.2">20</text>
<text transform="translate(396.81,219.3) scale(1.0970,1)" font-size="9.8" font-weight="normal" font-style="normal" fill="#262626" stroke="#262626" stroke-width="0.2">30</text>
<text transform="translate(415.93,219.3) scale(1.0970,1)" font-size="9.8" font-weight="normal" font-style="normal" fill="#262626" stroke="#262626" stroke-width="0.2">40</text>
<text transform="translate(434.83,219.3) scale(1.0970,1)" font-size="9.8" font-weight="normal" font-style="normal" fill="#262626" stroke="#262626" stroke-width="0.2">50</text>
<text transform="translate(453.79,219.3) scale(1.0970,1)" font-size="9.8" font-weight="normal" font-style="normal" fill="#262626" stroke="#262626" stroke-width="0.2">60</text>
<text transform="translate(472.8,219.3) scale(1.0970,1)" font-size="9.8" font-weight="normal" font-style="normal" fill="#262626" stroke="#262626" stroke-width="0.2">70</text>
<text transform="translate(491.86,219.3) scale(1.0970,1)" font-size="9.8" font-weight="normal" font-style="normal" fill="#262626" stroke="#262626" stroke-width="0.2">80</text>
<text transform="translate(510.82,219.3) scale(1.0970,1)" font-size="9.8" font-weight="normal" font-style="normal" fill="#262626" stroke="#262626" stroke-width="0.2">90</text>
<text transform="translate(526.71,219.3) scale(1.0970,1)" font-size="9.8" font-weight="normal" font-style="normal" fill="#262626" stroke="#262626" stroke-width="0.2">100</text>
<text transform="translate(312.95,193.38) scale(1.0970,1)" font-size="9.8" font-weight="normal" font-style="normal" fill="#262626" stroke="#262626" stroke-width="0.2">−0.6</text>
<text transform="translate(312.74,171.89) scale(1.0970,1)" font-size="9.8" font-weight="normal" font-style="normal" fill="#262626" stroke="#262626" stroke-width="0.2">−0.4</text>
<text transform="translate(312.95,150.4) scale(1.0970,1)" font-size="9.8" font-weight="normal" font-style="normal" fill="#262626" stroke="#262626" stroke-width="0.2">−0.2</text>
<text transform="translate(319.19,128.91) scale(1.0970,1)" font-size="9.8" font-weight="normal" font-style="normal" fill="#262626" stroke="#262626" stroke-width="0.2">0.0</text>
<text transform="translate(319.29,107.42) scale(1.0970,1)" font-size="9.8" font-weight="normal" font-style="normal" fill="#262626" stroke="#262626" stroke-width="0.2">0.2</text>
<text transform="translate(319.08,85.93) scale(1.0970,1)" font-size="9.8" font-weight="normal" font-style="normal" fill="#262626" stroke="#262626" stroke-width="0.2">0.4</text>
<text transform="translate(319.29,64.44) scale(1.0970,1)" font-size="9.8" font-weight="normal" font-style="normal" fill="#262626" stroke="#262626" stroke-width="0.2">0.6</text>
<text transform="translate(319.29,42.95) scale(1.0970,1)" font-size="9.8" font-weight="normal" font-style="normal" fill="#262626" stroke="#262626" stroke-width="0.2">0.8</text>
<text transform="translate(348.04,173.1) scale(0.8739,1)" font-size="9.8" font-weight="normal" font-style="italic" fill="#e8503e" stroke="#e8503e" stroke-width="0.2">KGE</text>
<text transform="translate(368.83,172.75) scale(1.3720,1)" font-size="8.33" font-weight="normal" font-style="normal" fill="#e8503e" stroke="#e8503e" stroke-width="0.2">=</text>
<text transform="translate(377.99,173.1) scale(1.0450,1)" font-size="9.8" font-weight="normal" font-style="normal" fill="#e8503e" stroke="#e8503e" stroke-width="0.2">0.49</text>
<text transform="translate(403.84,173.1) scale(0.8904,1)" font-size="9.8" font-weight="normal" font-style="italic" fill="#e8503e" stroke="#e8503e" stroke-width="0.2">NSE</text>
<text transform="translate(424.43,172.75) scale(1.3720,1)" font-size="8.33" font-weight="normal" font-style="normal" fill="#e8503e" stroke="#e8503e" stroke-width="0.2">=</text>
<text transform="translate(433.19,173.1) scale(1.0450,1)" font-size="9.8" font-weight="normal" font-style="normal" fill="#e8503e" stroke="#e8503e" stroke-width="0.2">0.50</text>
<text transform="translate(348.04,182.78) scale(0.8739,1)" font-size="9.8" font-weight="normal" font-style="italic" fill="#3db8e6" stroke="#3db8e6" stroke-width="0.2">KGE</text>
<text transform="translate(368.83,182.43) scale(1.3720,1)" font-size="8.33" font-weight="normal" font-style="normal" fill="#3db8e6" stroke="#3db8e6" stroke-width="0.2">=</text>
<text transform="translate(377.99,182.78) scale(1.0450,1)" font-size="9.8" font-weight="normal" font-style="normal" fill="#3db8e6" stroke="#3db8e6" stroke-width="0.2">0.46</text>
<text transform="translate(403.84,182.78) scale(0.8904,1)" font-size="9.8" font-weight="normal" font-style="italic" fill="#3db8e6" stroke="#3db8e6" stroke-width="0.2">NSE</text>
<text transform="translate(424.43,182.43) scale(1.3720,1)" font-size="8.33" font-weight="normal" font-style="normal" fill="#3db8e6" stroke="#3db8e6" stroke-width="0.2">=</text>
<text transform="translate(433.19,182.78) scale(1.0450,1)" font-size="9.8" font-weight="normal" font-style="normal" fill="#3db8e6" stroke="#3db8e6" stroke-width="0.2">0.43</text>
<text transform="translate(348.04,192.46) scale(0.8739,1)" font-size="9.8" font-weight="normal" font-style="italic" fill="#a6b33a" stroke="#a6b33a" stroke-width="0.2">KGE</text>
<text transform="translate(368.83,192.11) scale(1.3720,1)" font-size="8.33" font-weight="normal" font-style="normal" fill="#a6b33a" stroke="#a6b33a" stroke-width="0.2">=</text>
<text transform="translate(377.99,192.46) scale(1.0450,1)" font-size="9.8" font-weight="normal" font-style="normal" fill="#a6b33a" stroke="#a6b33a" stroke-width="0.2">0.44</text>
<text transform="translate(403.84,192.46) scale(0.8904,1)" font-size="9.8" font-weight="normal" font-style="italic" fill="#a6b33a" stroke="#a6b33a" stroke-width="0.2">NSE</text>
<text transform="translate(424.43,192.11) scale(1.3720,1)" font-size="8.33" font-weight="normal" font-style="normal" fill="#a6b33a" stroke="#a6b33a" stroke-width="0.2">=</text>
<text transform="translate(433.19,192.46) scale(1.0450,1)" font-size="9.8" font-weight="normal" font-style="normal" fill="#a6b33a" stroke="#a6b33a" stroke-width="0.2">0.39</text>
<text transform="translate(348.04,202.14) scale(0.8739,1)" font-size="9.8" font-weight="normal" font-style="italic" fill="#b82ca4" stroke="#b82ca4" stroke-width="0.2">KGE</text>
<text transform="translate(368.83,201.79) scale(1.3720,1)" font-size="8.33" font-weight="normal" font-style="normal" fill="#b82ca4" stroke="#b82ca4" stroke-width="0.2">=</text>
<text transform="translate(377.99,202.14) scale(1.0450,1)" font-size="9.8" font-weight="normal" font-style="normal" fill="#b82ca4" stroke="#b82ca4" stroke-width="0.2">0.45</text>
<text transform="translate(403.84,202.14) scale(0.8904,1)" font-size="9.8" font-weight="normal" font-style="italic" fill="#b82ca4" stroke="#b82ca4" stroke-width="0.2">NSE</text>
<text transform="translate(424.43,201.79) scale(1.3720,1)" font-size="8.33" font-weight="normal" font-style="normal" fill="#b82ca4" stroke="#b82ca4" stroke-width="0.2">=</text>
<text transform="translate(433.19,202.14) scale(1.0450,1)" font-size="9.8" font-weight="normal" font-style="normal" fill="#b82ca4" stroke="#b82ca4" stroke-width="0.2">0.41</text>
<path d="M345.8,250.6V427.8M364.81,250.6V427.8M383.82,250.6V427.8M402.83,250.6V427.8M421.84,250.6V427.8M440.85,250.6V427.8M459.86,250.6V427.8M478.87,250.6V427.8M497.88,250.6V427.8M516.89,250.6V427.8M535.9,250.6V427.8M340.7,411.69H545.4M340.7,390.21H545.4M340.7,368.73H545.4M340.7,347.25H545.4M340.7,325.78H545.4M340.7,304.3H545.4M340.7,282.82H545.4M340.7,261.34H545.4" stroke="#f2f2f2" stroke-width="0.8" fill="none"/>
<path d="M340.7,347.25H545.4" stroke="#3c3c3c" stroke-width="1.0" stroke-dasharray="2.8 1.2" fill="none"/>
<clipPath id="cpd"><rect x="340.7" y="250.6" width="204.7" height="177.20000000000002"/></clipPath>
<g clip-path="url(#cpd)">
<polyline points="349.6,279.6 355.31,286.04 364.81,288.94 383.82,290.44 402.83,291.73 440.85,291.41 535.9,292.7" fill="none" stroke="#e8503e" stroke-width="1.2" stroke-linejoin="round"/>
<polygon points="349.6,276.05 351.75,279.6 349.6,283.15 347.45,279.6" fill="#ff1e14" stroke="#a8201c" stroke-width="0.6"/>
<polygon points="355.31,282.49 357.45,286.04 355.31,289.59 353.16,286.04" fill="#ff1e14" stroke="#a8201c" stroke-width="0.6"/>
<polygon points="364.81,285.39 366.96,288.94 364.81,292.49 362.66,288.94" fill="#ff1e14" stroke="#a8201c" stroke-width="0.6"/>
<polygon points="383.82,286.89 385.97,290.44 383.82,293.99 381.67,290.44" fill="#ff1e14" stroke="#a8201c" stroke-width="0.6"/>
<polygon points="402.83,288.18 404.98,291.73 402.83,295.28 400.68,291.73" fill="#ff1e14" stroke="#a8201c" stroke-width="0.6"/>
<polygon points="440.85,287.86 443,291.41 440.85,294.96 438.7,291.41" fill="#ff1e14" stroke="#a8201c" stroke-width="0.6"/>
<polygon points="535.9,289.15 538.05,292.7 535.9,296.25 533.75,292.7" fill="#ff1e14" stroke="#a8201c" stroke-width="0.6"/>
<polyline points="349.6,284.64 355.31,292.38 364.81,294.63 383.82,296.35 402.83,297.53 440.85,298.5 535.9,299.57" fill="none" stroke="#3db8e6" stroke-width="1.2" stroke-linejoin="round"/>
<circle cx="349.6" cy="284.64" r="2.75" fill="#1ea8e4" stroke="#1a6fa8" stroke-width="0.6"/>
<circle cx="355.31" cy="292.38" r="2.75" fill="#1ea8e4" stroke="#1a6fa8" stroke-width="0.6"/>
<circle cx="364.81" cy="294.63" r="2.75" fill="#1ea8e4" stroke="#1a6fa8" stroke-width="0.6"/>
<circle cx="383.82" cy="296.35" r="2.75" fill="#1ea8e4" stroke="#1a6fa8" stroke-width="0.6"/>
<circle cx="402.83" cy="297.53" r="2.75" fill="#1ea8e4" stroke="#1a6fa8" stroke-width="0.6"/>
<circle cx="440.85" cy="298.5" r="2.75" fill="#1ea8e4" stroke="#1a6fa8" stroke-width="0.6"/>
<circle cx="535.9" cy="299.57" r="2.75" fill="#1ea8e4" stroke="#1a6fa8" stroke-width="0.6"/>
<polyline points="349.6,277.13 355.31,291.09 364.81,298.07 383.82,301.93 402.83,305.48 440.85,307.3 535.9,310.63" fill="none" stroke="#a6b33a" stroke-width="1.2" stroke-linejoin="round"/>
<rect x="346.95" y="274.48" width="5.3" height="5.3" fill="#98a625" stroke="#5a6414" stroke-width="0.6"/>
<rect x="352.66" y="288.44" width="5.3" height="5.3" fill="#98a625" stroke="#5a6414" stroke-width="0.6"/>
<rect x="362.16" y="295.42" width="5.3" height="5.3" fill="#98a625" stroke="#5a6414" stroke-width="0.6"/>
<rect x="381.17" y="299.28" width="5.3" height="5.3" fill="#98a625" stroke="#5a6414" stroke-width="0.6"/>
<rect x="400.18" y="302.83" width="5.3" height="5.3" fill="#98a625" stroke="#5a6414" stroke-width="0.6"/>
<rect x="438.2" y="304.65" width="5.3" height="5.3" fill="#98a625" stroke="#5a6414" stroke-width="0.6"/>
<rect x="533.25" y="307.98" width="5.3" height="5.3" fill="#98a625" stroke="#5a6414" stroke-width="0.6"/>
<polyline points="349.6,280.24 355.31,287.87 364.81,293.56 383.82,298.82 402.83,303.22 440.85,304.19 535.9,309.45" fill="none" stroke="#b82ca4" stroke-width="1.2" stroke-linejoin="round"/>
<polygon points="348.6,277.34 350.6,277.34 350.6,279.24 352.5,279.24 352.5,281.24 350.6,281.24 350.6,283.14 348.6,283.14 348.6,281.24 346.7,281.24 346.7,279.24 348.6,279.24" fill="#c4149e" stroke="#520a58" stroke-width="0.6"/>
<polygon points="354.31,284.97 356.31,284.97 356.31,286.87 358.2,286.87 358.2,288.87 356.31,288.87 356.31,290.77 354.31,290.77 354.31,288.87 352.41,288.87 352.41,286.87 354.31,286.87" fill="#c4149e" stroke="#520a58" stroke-width="0.6"/>
<polygon points="363.81,290.66 365.81,290.66 365.81,292.56 367.71,292.56 367.71,294.56 365.81,294.56 365.81,296.46 363.81,296.46 363.81,294.56 361.91,294.56 361.91,292.56 363.81,292.56" fill="#c4149e" stroke="#520a58" stroke-width="0.6"/>
<polygon points="382.82,295.92 384.82,295.92 384.82,297.82 386.72,297.82 386.72,299.82 384.82,299.82 384.82,301.72 382.82,301.72 382.82,299.82 380.92,299.82 380.92,297.82 382.82,297.82" fill="#c4149e" stroke="#520a58" stroke-width="0.6"/>
<polygon points="401.83,300.32 403.83,300.32 403.83,302.22 405.73,302.22 405.73,304.22 403.83,304.22 403.83,306.12 401.83,306.12 401.83,304.22 399.93,304.22 399.93,302.22 401.83,302.22" fill="#c4149e" stroke="#520a58" stroke-width="0.6"/>
<polygon points="439.85,301.29 441.85,301.29 441.85,303.19 443.75,303.19 443.75,305.19 441.85,305.19 441.85,307.09 439.85,307.09 439.85,305.19 437.95,305.19 437.95,303.19 439.85,303.19" fill="#c4149e" stroke="#520a58" stroke-width="0.6"/>
<polygon points="534.9,306.55 536.9,306.55 536.9,308.45 538.8,308.45 538.8,310.45 536.9,310.45 536.9,312.35 534.9,312.35 534.9,310.45 533,310.45 533,308.45 534.9,308.45" fill="#c4149e" stroke="#520a58" stroke-width="0.6"/>
<polyline points="349.6,282.82 355.31,285.5 364.81,287.11 383.82,288.72 402.83,289.58 440.85,290.34 535.9,291.19" fill="none" stroke="#e8503e" stroke-width="1.5" stroke-dasharray="8.6 2.3 1.4 2.3" stroke-linejoin="round"/>
<polyline points="349.6,284.97 355.31,291.41 364.81,296.78 383.82,300 402.83,301.61 440.85,303.76 535.9,305.69" fill="none" stroke="#3db8e6" stroke-width="1.5" stroke-dasharray="8.6 2.3 1.4 2.3" stroke-linejoin="round"/>
<polyline points="349.6,268.86 355.31,287.11 364.81,298.93 383.82,310.74 402.83,314.5 440.85,317.29 535.9,323.63" fill="none" stroke="#a6b33a" stroke-width="1.5" stroke-dasharray="8.6 2.3 1.4 2.3" stroke-linejoin="round"/>
<polyline points="349.6,276.37 355.31,287.11 364.81,295.71 383.82,305.37 402.83,309.99 440.85,316.33 535.9,324.16" fill="none" stroke="#b82ca4" stroke-width="1.5" stroke-dasharray="8.6 2.3 1.4 2.3" stroke-linejoin="round"/>
</g>
<rect x="340.7" y="250.6" width="204.7" height="177.2" fill="none" stroke="#3a3a3a" stroke-width="1.2"/>
<path d="M345.8,427.8v3.5M364.81,427.8v3.5M383.82,427.8v3.5M402.83,427.8v3.5M421.84,427.8v3.5M440.85,427.8v3.5M459.86,427.8v3.5M478.87,427.8v3.5M497.88,427.8v3.5M516.89,427.8v3.5M535.9,427.8v3.5M340.7,411.69h-3.5M340.7,390.21h-3.5M340.7,368.73h-3.5M340.7,347.25h-3.5M340.7,325.78h-3.5M340.7,304.3h-3.5M340.7,282.82h-3.5M340.7,261.34h-3.5" stroke="#3a3a3a" stroke-width="1.0" fill="none"/>
<text transform="translate(342.79,441.2) scale(1.0970,1)" font-size="9.8" font-weight="normal" font-style="normal" fill="#262626" stroke="#262626" stroke-width="0.2">0</text>
<text transform="translate(358.57,441.2) scale(1.0970,1)" font-size="9.8" font-weight="normal" font-style="normal" fill="#262626" stroke="#262626" stroke-width="0.2">10</text>
<text transform="translate(377.75,441.2) scale(1.0970,1)" font-size="9.8" font-weight="normal" font-style="normal" fill="#262626" stroke="#262626" stroke-width="0.2">20</text>
<text transform="translate(396.81,441.2) scale(1.0970,1)" font-size="9.8" font-weight="normal" font-style="normal" fill="#262626" stroke="#262626" stroke-width="0.2">30</text>
<text transform="translate(415.93,441.2) scale(1.0970,1)" font-size="9.8" font-weight="normal" font-style="normal" fill="#262626" stroke="#262626" stroke-width="0.2">40</text>
<text transform="translate(434.83,441.2) scale(1.0970,1)" font-size="9.8" font-weight="normal" font-style="normal" fill="#262626" stroke="#262626" stroke-width="0.2">50</text>
<text transform="translate(453.79,441.2) scale(1.0970,1)" font-size="9.8" font-weight="normal" font-style="normal" fill="#262626" stroke="#262626" stroke-width="0.2">60</text>
<text transform="translate(472.8,441.2) scale(1.0970,1)" font-size="9.8" font-weight="normal" font-style="normal" fill="#262626" stroke="#262626" stroke-width="0.2">70</text>
<text transform="translate(491.86,441.2) scale(1.0970,1)" font-size="9.8" font-weight="normal" font-style="normal" fill="#262626" stroke="#262626" stroke-width="0.2">80</text>
<text transform="translate(510.82,441.2) scale(1.0970,1)" font-size="9.8" font-weight="normal" font-style="normal" fill="#262626" stroke="#262626" stroke-width="0.2">90</text>
<text transform="translate(526.71,441.2) scale(1.0970,1)" font-size="9.8" font-weight="normal" font-style="normal" fill="#262626" stroke="#262626" stroke-width="0.2">100</text>
<text transform="translate(312.95,415.29) scale(1.0970,1)" font-size="9.8" font-weight="normal" font-style="normal" fill="#262626" stroke="#262626" stroke-width="0.2">−0.6</text>
<text transform="translate(312.74,393.81) scale(1.0970,1)" font-size="9.8" font-weight="normal" font-style="normal" fill="#262626" stroke="#262626" stroke-width="0.2">−0.4</text>
<text transform="translate(312.95,372.33) scale(1.0970,1)" font-size="9.8" font-weight="normal" font-style="normal" fill="#262626" stroke="#262626" stroke-width="0.2">−0.2</text>
<text transform="translate(319.19,350.85) scale(1.0970,1)" font-size="9.8" font-weight="normal" font-style="normal" fill="#262626" stroke="#262626" stroke-width="0.2">0.0</text>
<text transform="translate(319.29,329.38) scale(1.0970,1)" font-size="9.8" font-weight="normal" font-style="normal" fill="#262626" stroke="#262626" stroke-width="0.2">0.2</text>
<text transform="translate(319.08,307.9) scale(1.0970,1)" font-size="9.8" font-weight="normal" font-style="normal" fill="#262626" stroke="#262626" stroke-width="0.2">0.4</text>
<text transform="translate(319.29,286.42) scale(1.0970,1)" font-size="9.8" font-weight="normal" font-style="normal" fill="#262626" stroke="#262626" stroke-width="0.2">0.6</text>
<text transform="translate(319.29,264.94) scale(1.0970,1)" font-size="9.8" font-weight="normal" font-style="normal" fill="#262626" stroke="#262626" stroke-width="0.2">0.8</text>
<text transform="translate(348.04,394.8) scale(0.8739,1)" font-size="9.8" font-weight="normal" font-style="italic" fill="#e8503e" stroke="#e8503e" stroke-width="0.2">KGE</text>
<text transform="translate(368.83,394.45) scale(1.3720,1)" font-size="8.33" font-weight="normal" font-style="normal" fill="#e8503e" stroke="#e8503e" stroke-width="0.2">=</text>
<text transform="translate(377.99,394.8) scale(1.0450,1)" font-size="9.8" font-weight="normal" font-style="normal" fill="#e8503e" stroke="#e8503e" stroke-width="0.2">0.53</text>
<text transform="translate(403.84,394.8) scale(0.8904,1)" font-size="9.8" font-weight="normal" font-style="italic" fill="#e8503e" stroke="#e8503e" stroke-width="0.2">NSE</text>
<text transform="translate(424.43,394.45) scale(1.3720,1)" font-size="8.33" font-weight="normal" font-style="normal" fill="#e8503e" stroke="#e8503e" stroke-width="0.2">=</text>
<text transform="translate(433.19,394.8) scale(1.0450,1)" font-size="9.8" font-weight="normal" font-style="normal" fill="#e8503e" stroke="#e8503e" stroke-width="0.2">0.56</text>
<text transform="translate(348.04,404.48) scale(0.8739,1)" font-size="9.8" font-weight="normal" font-style="italic" fill="#3db8e6" stroke="#3db8e6" stroke-width="0.2">KGE</text>
<text transform="translate(368.83,404.13) scale(1.3720,1)" font-size="8.33" font-weight="normal" font-style="normal" fill="#3db8e6" stroke="#3db8e6" stroke-width="0.2">=</text>
<text transform="translate(377.99,404.48) scale(1.0450,1)" font-size="9.8" font-weight="normal" font-style="normal" fill="#3db8e6" stroke="#3db8e6" stroke-width="0.2">0.49</text>
<text transform="translate(403.84,404.48) scale(0.8904,1)" font-size="9.8" font-weight="normal" font-style="italic" fill="#3db8e6" stroke="#3db8e6" stroke-width="0.2">NSE</text>
<text transform="translate(424.43,404.13) scale(1.3720,1)" font-size="8.33" font-weight="normal" font-style="normal" fill="#3db8e6" stroke="#3db8e6" stroke-width="0.2">=</text>
<text transform="translate(433.19,404.48) scale(1.0450,1)" font-size="9.8" font-weight="normal" font-style="normal" fill="#3db8e6" stroke="#3db8e6" stroke-width="0.2">0.46</text>
<text transform="translate(348.04,414.16) scale(0.8739,1)" font-size="9.8" font-weight="normal" font-style="italic" fill="#a6b33a" stroke="#a6b33a" stroke-width="0.2">KGE</text>
<text transform="translate(368.83,413.81) scale(1.3720,1)" font-size="8.33" font-weight="normal" font-style="normal" fill="#a6b33a" stroke="#a6b33a" stroke-width="0.2">=</text>
<text transform="translate(377.99,414.16) scale(1.0450,1)" font-size="9.8" font-weight="normal" font-style="normal" fill="#a6b33a" stroke="#a6b33a" stroke-width="0.2">0.45</text>
<text transform="translate(403.84,414.16) scale(0.8904,1)" font-size="9.8" font-weight="normal" font-style="italic" fill="#a6b33a" stroke="#a6b33a" stroke-width="0.2">NSE</text>
<text transform="translate(424.43,413.81) scale(1.3720,1)" font-size="8.33" font-weight="normal" font-style="normal" fill="#a6b33a" stroke="#a6b33a" stroke-width="0.2">=</text>
<text transform="translate(433.19,414.16) scale(1.0450,1)" font-size="9.8" font-weight="normal" font-style="normal" fill="#a6b33a" stroke="#a6b33a" stroke-width="0.2">0.40</text>
<text transform="translate(348.04,423.84) scale(0.8739,1)" font-size="9.8" font-weight="normal" font-style="italic" fill="#b82ca4" stroke="#b82ca4" stroke-width="0.2">KGE</text>
<text transform="translate(368.83,423.49) scale(1.3720,1)" font-size="8.33" font-weight="normal" font-style="normal" fill="#b82ca4" stroke="#b82ca4" stroke-width="0.2">=</text>
<text transform="translate(377.99,423.84) scale(1.0450,1)" font-size="9.8" font-weight="normal" font-style="normal" fill="#b82ca4" stroke="#b82ca4" stroke-width="0.2">0.47</text>
<text transform="translate(403.84,423.84) scale(0.8904,1)" font-size="9.8" font-weight="normal" font-style="italic" fill="#b82ca4" stroke="#b82ca4" stroke-width="0.2">NSE</text>
<text transform="translate(424.43,423.49) scale(1.3720,1)" font-size="8.33" font-weight="normal" font-style="normal" fill="#b82ca4" stroke="#b82ca4" stroke-width="0.2">=</text>
<text transform="translate(433.19,423.84) scale(1.0450,1)" font-size="9.8" font-weight="normal" font-style="normal" fill="#b82ca4" stroke="#b82ca4" stroke-width="0.2">0.43</text>
<text transform="translate(66.87,10.9) scale(1.1796,1)" font-size="10.4" font-weight="normal" font-style="normal" fill="#1a1a1a" stroke="#1a1a1a" stroke-width="0.05">FBR 1: 15.85° E, 46.95° N</text>
<text transform="translate(119.3,22.5) scale(1.0656,1)" font-size="10.4" font-weight="normal" font-style="normal" fill="#1a1a1a" stroke="#1a1a1a" stroke-width="0.05">AA-AMS</text>
<text transform="translate(356.8,10.9) scale(1.1687,1)" font-size="10.4" font-weight="normal" font-style="normal" fill="#1a1a1a" stroke="#1a1a1a" stroke-width="0.05">WGEW 2: -109.95° E, 31.75° N</text>
<text transform="translate(421.8,22.5) scale(1.0656,1)" font-size="10.4" font-weight="normal" font-style="normal" fill="#1a1a1a" stroke="#1a1a1a" stroke-width="0.05">AA-AMS</text>
<text transform="translate(119.3,244.8) scale(1.0656,1)" font-size="10.4" font-weight="normal" font-style="normal" fill="#1a1a1a" stroke="#1a1a1a" stroke-width="0.05">AB-AMS</text>
<text transform="translate(421.8,244.8) scale(1.0656,1)" font-size="10.4" font-weight="normal" font-style="normal" fill="#1a1a1a" stroke="#1a1a1a" stroke-width="0.05">AB-AMS</text>
<text transform="translate(38.15,22.8) scale(1.2748,1)" font-size="9.2" font-weight="bold" font-style="normal" fill="#111111" stroke="#111111" stroke-width="0.2">a)</text>
<text transform="translate(37.79,244.8) scale(1.2593,1)" font-size="9.2" font-weight="bold" font-style="normal" fill="#111111" stroke="#111111" stroke-width="0.2">b)</text>
<text transform="translate(340.62,22.8) scale(1.0462,1)" font-size="9.2" font-weight="bold" font-style="normal" fill="#111111" stroke="#111111" stroke-width="0.2">c)</text>
<text transform="translate(340.35,244.8) scale(1.2148,1)" font-size="9.2" font-weight="bold" font-style="normal" fill="#111111" stroke="#111111" stroke-width="0.2">d)</text>
<text transform="translate(84.43,453.3) scale(1.1844,1)" font-size="9.3" font-weight="bold" font-style="normal" fill="#111111" stroke="#111111" stroke-width="0.2">Return Period (years)</text>
<text transform="translate(387.13,453.3) scale(1.1844,1)" font-size="9.3" font-weight="bold" font-style="normal" fill="#111111" stroke="#111111" stroke-width="0.2">Return Period (years)</text>
<text transform="translate(11,147.7) rotate(-90) scale(1.0682,1)" font-size="9.3" font-weight="bold" font-family="Liberation Sans, sans-serif" fill="#111111">KGEss / NSE</text>
<text transform="translate(11,369.3) rotate(-90) scale(1.0682,1)" font-size="9.3" font-weight="bold" font-family="Liberation Sans, sans-serif" fill="#111111">KGEss / NSE</text>
<text transform="translate(306.2,147.7) rotate(-90) scale(1.0682,1)" font-size="9.3" font-weight="bold" font-family="Liberation Sans, sans-serif" fill="#111111">KGEss / NSE</text>
<text transform="translate(306.2,369.3) rotate(-90) scale(1.0682,1)" font-size="9.3" font-weight="bold" font-family="Liberation Sans, sans-serif" fill="#111111">KGEss / NSE</text>
<rect x="22.5" y="459.2" width="257.7" height="28.6" rx="2" ry="2" fill="#ffffff" fill-opacity="0.8" stroke="#d4d4d4" stroke-width="1"/>
<rect x="294.1" y="459.2" width="237.5" height="28.6" rx="2" ry="2" fill="#ffffff" fill-opacity="0.8" stroke="#d4d4d4" stroke-width="1"/>
<path d="M25.3,466.5H44.7" stroke="#e8503e" stroke-width="1.2"/>
<polygon points="35,462.95 37.15,466.5 35,470.05 32.85,466.5" fill="#ff1e14" stroke="#a8201c" stroke-width="0.6"/>
<path d="M25.3,479.7H44.7" stroke="#3db8e6" stroke-width="1.2"/>
<circle cx="35" cy="479.7" r="2.75" fill="#1ea8e4" stroke="#1a6fa8" stroke-width="0.6"/>
<path d="M168.6,466.5H188.0" stroke="#a6b33a" stroke-width="1.2"/>
<rect x="175.65" y="463.85" width="5.3" height="5.3" fill="#98a625" stroke="#5a6414" stroke-width="0.6"/>
<path d="M168.6,479.7H188.0" stroke="#b82ca4" stroke-width="1.2"/>
<polygon points="177.3,476.8 179.3,476.8 179.3,478.7 181.2,478.7 181.2,480.7 179.3,480.7 179.3,482.6 177.3,482.6 177.3,480.7 175.4,480.7 175.4,478.7 177.3,478.7" fill="#c4149e" stroke="#520a58" stroke-width="0.6"/>
<path d="M297.4,466.5H316.8" stroke="#e8503e" stroke-width="1.5" stroke-dasharray="8.6 2.3 1.4 2.3"/>
<path d="M297.4,479.7H316.8" stroke="#3db8e6" stroke-width="1.5" stroke-dasharray="8.6 2.3 1.4 2.3"/>
<path d="M430.6,466.5H450.0" stroke="#a6b33a" stroke-width="1.5" stroke-dasharray="8.6 2.3 1.4 2.3"/>
<path d="M430.6,479.7H450.0" stroke="#b82ca4" stroke-width="1.5" stroke-dasharray="8.6 2.3 1.4 2.3"/>
<text transform="translate(51.02,469.8) scale(0.9830,1)" font-size="9.9" font-weight="normal" font-style="normal" fill="#262626" stroke="#262626" stroke-width="0.16">KGEss Gumbel &amp; MLE</text>
<text transform="translate(51.01,483) scale(0.9996,1)" font-size="9.9" font-weight="normal" font-style="normal" fill="#262626" stroke="#262626" stroke-width="0.16">KGEss Gumbel &amp; MM</text>
<text transform="translate(193.62,469.8) scale(0.9817,1)" font-size="9.9" font-weight="normal" font-style="normal" fill="#262626" stroke="#262626" stroke-width="0.16">KGEss Pearson 3</text>
<text transform="translate(193.64,483) scale(0.9564,1)" font-size="9.9" font-weight="normal" font-style="normal" fill="#262626" stroke="#262626" stroke-width="0.16">KGEss GEV &amp; MLE</text>
<text transform="translate(322.52,469.8) scale(0.9910,1)" font-size="9.9" font-weight="normal" font-style="normal" fill="#262626" stroke="#262626" stroke-width="0.16">NSE Gumbel &amp; MLE</text>
<text transform="translate(322.5,483) scale(1.0089,1)" font-size="9.9" font-weight="normal" font-style="normal" fill="#262626" stroke="#262626" stroke-width="0.16">NSE Gumbel &amp; MM</text>
<text transform="translate(455.82,469.8) scale(0.9877,1)" font-size="9.9" font-weight="normal" font-style="normal" fill="#262626" stroke="#262626" stroke-width="0.16">NSE Pearson 3</text>
<text transform="translate(455.85,483) scale(0.9517,1)" font-size="9.9" font-weight="normal" font-style="normal" fill="#262626" stroke="#262626" stroke-width="0.16">NSE GEV &amp; MLE</text>
</svg>
</body></html>
